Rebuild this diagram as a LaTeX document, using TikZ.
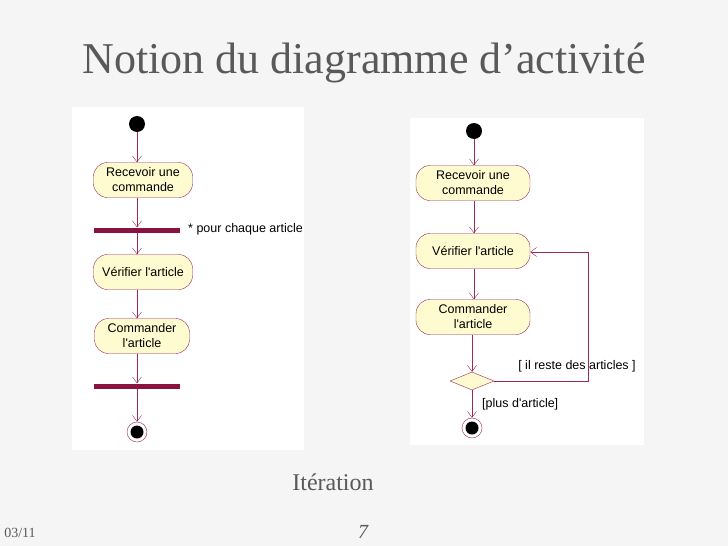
\documentclass[tikz,border=0pt]{standalone}
\usepackage{fontspec}
\setmainfont{Liberation Serif}
\newfontfamily\uml{Liberation Sans}
\usetikzlibrary{shapes.geometric,arrows.meta}
\definecolor{ln}{HTML}{9A2A5A}
\definecolor{bar}{HTML}{8A1240}
\definecolor{act}{HTML}{FFFBD0}
\definecolor{ttl}{HTML}{595959}
\tikzset{
 x=1pt,y=-1pt,
 actbox/.style={draw=ln,fill=act,rounded corners=14pt,minimum width=99pt,minimum height=35pt,align=center,font=\uml\fontsize{12.5}{15}\selectfont,inner sep=1pt},
 startdot/.style={circle,fill=black,minimum size=16pt,inner sep=0},
 enddot/.style={circle,draw=ln,fill=white,minimum size=20pt,inner sep=0,path picture={\fill[black] (path picture bounding box.center) circle (6.5pt);}},
 syncbar/.style={fill=bar,minimum width=86pt,minimum height=5pt,inner sep=0},
 flow/.style={draw=ln,-{Straight Barb[length=6pt,width=9pt]}},
 lbl/.style={font=\uml\fontsize{12.5}{15}\selectfont,inner sep=0},
 dec/.style={diamond,draw=ln,fill=act,minimum width=44pt,minimum height=18pt,inner sep=0,aspect=2.4}
}
\begin{document}
\begin{tikzpicture}
\useasboundingbox (0,0) rectangle (728,546);
\fill[gray!8] (0,0) rectangle (728,546);
\fill[white] (72,107) rectangle (304,450);
\fill[white] (410,118) rectangle (644,445);
\node[font=\fontsize{44}{48}\selectfont,text=ttl] (title) at (364,63) {Notion du diagramme d’activité};
\node[font=\fontsize{24}{28}\selectfont,text=ttl] (iter) at (333,482) {Itération};
\node[font=\itshape\fontsize{20}{22}\selectfont,text=ttl] (pg) at (363,532) {7};
\node[font=\fontsize{14}{16}\selectfont,text=ttl] (date) at (20,533) {03/11};
% left
\node[startdot] (ls) at (137,124) {};
\node[actbox] (lr) at (143,180) {Recevoir une\\commande};
\node[syncbar] (lb1) at (137,230) {};
\node[lbl,anchor=west] (lbl1) at (188,229) {* pour chaque article};
\node[actbox] (lv) at (143,272) {Vérifier l'article};
\node[actbox,minimum width=95pt] (lc) at (142,336) {Commander\\l'article};
\node[syncbar] (lb2) at (137,386) {};
\node[enddot] (le) at (137,432) {};
\draw[flow] (ls) -- (ls|-lr.north);
\draw[flow] (ls|-lr.south) -- (lb1);
\draw[flow] (lb1) -- (lb1|-lv.north);
\draw[flow] (lb1|-lv.south) -- (lb1|-lc.north);
\draw[flow] (lb1|-lc.south) -- (lb2);
\draw[flow] (lb2) -- (le);
% right
\node[startdot] (rs) at (474,131) {};
\node[actbox,minimum width=114pt] (rr) at (473,183) {Recevoir une\\commande};
\node[actbox,minimum width=114pt] (rv) at (473,251) {Vérifier l'article};
\node[actbox,minimum width=114pt] (rc) at (473,317) {Commander\\l'article};
\node[dec] (rd) at (472,381) {};
\node[enddot] (re) at (472,428) {};
\coordinate (rk1) at (588,381);
\coordinate (rk2) at (588,252);
\draw[flow] (rs) -- (rs|-rr.north);
\draw[flow] (rs|-rr.south) -- (rs|-rv.north);
\draw[flow] (rs|-rv.south) -- (rs|-rc.north);
\draw[flow] (rd|-rc.south) -- (rd.north);
\draw[flow] (rd.south) -- (re);
\draw[flow] (rd.east) -- (rk1) -- (rk2) -- (rv.east|-rk2);
\node[lbl,fill=white,inner xsep=1pt] (lr1) at (577,366) {[ il reste des articles ]};
\draw[ln] (588,359) -- (588,373);
\node[lbl,anchor=west] (lr2) at (482,404) {[plus d'article]};
\end{tikzpicture}
\end{document}
